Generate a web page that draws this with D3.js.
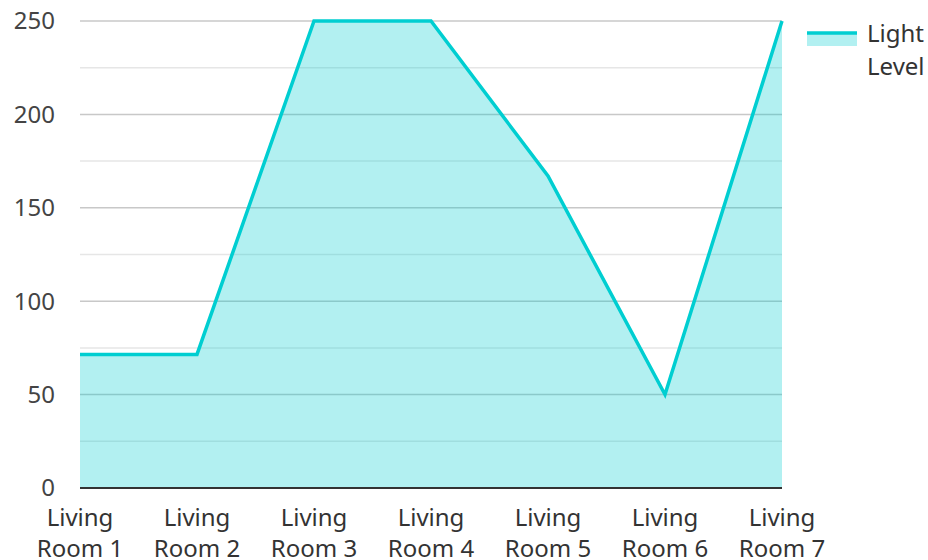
<!DOCTYPE html>
<html>
<head>
<meta charset="utf-8">
<script src="https://cdn.jsdelivr.net/npm/d3@7"></script>
<style>
  body { margin: 0; background: #fff; }
  text { font-family: "Noto Sans", "Open Sans", sans-serif; }
</style>
</head>
<body>
<svg id="chart"></svg>
<script>
const rooms = ["Living Room 1", "Living Room 2", "Living Room 3", "Living Room 4", "Living Room 5", "Living Room 6", "Living Room 7"];
const lightLevel = [71.5, 71.5, 250, 250, 167, 50, 250];
const majorTicks = [0, 50, 100, 150, 200, 250];
const minorTicks = [25, 75, 125, 175, 225];
const seriesName = ["Light", "Level"];

const width = 928;
const height = 560;
const margin = { top: 21, right: 146, bottom: 72, left: 80 };
const lineColor = "#00ced1";

const svg = d3.select("#chart")
    .attr("width", width)
    .attr("height", height);

const xScale = d3.scalePoint()
    .domain(rooms)
    .range([margin.left, width - margin.right]);

const yScale = d3.scaleLinear()
    .domain([0, 250])
    .range([height - margin.bottom, margin.top]);

// grid
svg.append("g")
    .selectAll("line")
    .data(minorTicks)
    .join("line")
    .attr("x1", margin.left)
    .attr("x2", width - margin.right)
    .attr("y1", d => yScale(d))
    .attr("y2", d => yScale(d))
    .attr("stroke", "#e6e6e6")
    .attr("stroke-width", 1.5);

svg.append("g")
    .selectAll("line")
    .data(majorTicks.filter(d => d > 0))
    .join("line")
    .attr("x1", margin.left)
    .attr("x2", width - margin.right)
    .attr("y1", d => yScale(d))
    .attr("y2", d => yScale(d))
    .attr("stroke", "#c8c8c8")
    .attr("stroke-width", 1.5);

// area + line
const data = rooms.map((r, i) => ({ room: r, value: lightLevel[i] }));

const area = d3.area()
    .x(d => xScale(d.room))
    .y0(yScale(0))
    .y1(d => yScale(d.value));

const line = d3.line()
    .x(d => xScale(d.room))
    .y(d => yScale(d.value));

svg.append("path")
    .datum(data)
    .attr("d", area)
    .attr("fill", lineColor)
    .attr("fill-opacity", 0.3);

svg.append("path")
    .datum(data)
    .attr("d", line)
    .attr("fill", "none")
    .attr("stroke", lineColor)
    .attr("stroke-width", 3.5);

// baseline
svg.append("line")
    .attr("x1", margin.left)
    .attr("x2", width - margin.right)
    .attr("y1", yScale(0))
    .attr("y2", yScale(0))
    .attr("stroke", "#333")
    .attr("stroke-width", 2);

// y labels
svg.append("g")
    .selectAll("text")
    .data(majorTicks)
    .join("text")
    .attr("x", 55)
    .attr("y", d => yScale(d))
    .attr("dy", "0.35em")
    .attr("text-anchor", "end")
    .attr("font-size", "24px")
    .attr("fill", "#444")
    .text(d => d);

// x labels
const xl = svg.append("g")
    .selectAll("text")
    .data(rooms)
    .join("text")
    .attr("text-anchor", "middle")
    .attr("font-size", "24px")
    .attr("fill", "#333");

xl.append("tspan")
    .attr("x", d => xScale(d))
    .attr("y", 526)
    .text(d => d.split(" ")[0]);

xl.append("tspan")
    .attr("x", d => xScale(d))
    .attr("y", 557)
    .text(d => d.split(" ").slice(1).join(" "));

// legend
const lg = svg.append("g");
lg.append("rect")
    .attr("x", 807)
    .attr("y", 33)
    .attr("width", 50)
    .attr("height", 13)
    .attr("fill", lineColor)
    .attr("fill-opacity", 0.3);
lg.append("line")
    .attr("x1", 807)
    .attr("x2", 857)
    .attr("y1", 33)
    .attr("y2", 33)
    .attr("stroke", lineColor)
    .attr("stroke-width", 3.5);
lg.selectAll("text")
    .data(seriesName)
    .join("text")
    .attr("x", 867)
    .attr("y", (d, i) => 42 + i * 33)
    .attr("font-size", "24px")
    .attr("fill", "#333")
    .text(d => d);
</script>
</body>
</html>
